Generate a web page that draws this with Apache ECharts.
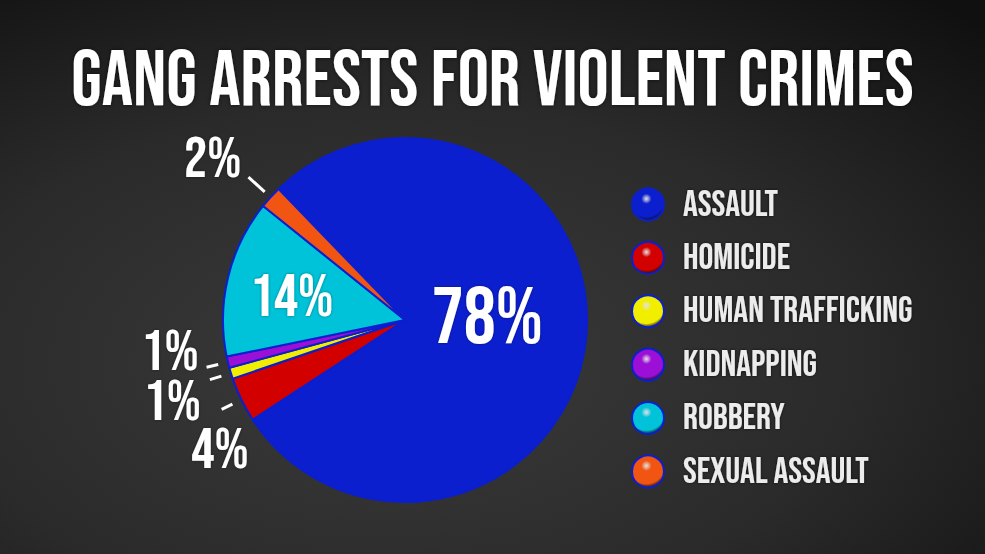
<!DOCTYPE html>
<html>
<head>
<meta charset="utf-8">
<script src="https://cdn.jsdelivr.net/npm/echarts@6/dist/echarts.min.js"></script>
<style>html,body{margin:0;padding:0;background:#1e1e1e;}#c{width:985px;height:554px;}</style>
</head>
<body>
<div id="c"></div>
<script>
const titleText = 'GANG ARRESTS FOR VIOLENT CRIMES';
const categories = ['ASSAULT', 'HOMICIDE', 'HUMAN TRAFFICKING', 'KIDNAPPING', 'ROBBERY', 'SEXUAL ASSAULT'];
const values = [78, 4, 1, 1, 14, 2];
const colors = ['#0b1fcf', '#d30000', '#f2ee00', '#9b0fd6', '#00c3d9', '#f25512'];
const insideLabels = ['ASSAULT', 'ROBBERY'];
// label nudges relative to the library's default label placement
const labelNudges = {
  'ASSAULT': [-11, -11],
  'HOMICIDE': [32, 41],
  'HUMAN TRAFFICKING': [-4, 23],
  'KIDNAPPING': [-3, -15],
  'ROBBERY': [-22, 0],
  'SEXUAL ASSAULT': [-2, -18]
};

const FONT = "'Bebas Neue', 'Oswald', sans-serif";

function sphere(c) {
  return {
    type: 'radial', x: 0.45, y: 0.32, r: 0.72,
    colorStops: [
      { offset: 0, color: 'rgba(255,255,255,0.85)' },
      { offset: 0.22, color: c },
      { offset: 0.78, color: c },
      { offset: 1, color: 'rgba(0,0,0,0.55)' }
    ]
  };
}

const pieData = categories.map((name, i) => {
  const inside = insideLabels.indexOf(name) >= 0;
  const big = name === 'SEXUAL ASSAULT';
  return {
    name: name,
    value: values[i],
    itemStyle: { color: colors[i] },
    label: inside ? {
      position: 'inside',
      fontSize: name === 'ASSAULT' ? 80 : 60
    } : {
      position: 'outside',
      fontSize: 58,
      lineHeight: 44
    },
    labelLine: inside ? { show: false } : {
      show: true,
      length: big ? 30 : 22,
      length2: 0,
      lineStyle: { color: '#ffffff', width: 3, type: big ? [0, 8, 22, 60] : [0, 10, 12, 60] }
    }
  };
});

const chart = echarts.init(document.getElementById('c'), null, { renderer: 'svg' });
chart.setOption({
  backgroundColor: {
    type: 'radial', x: 0.4, y: 0.65, r: 0.85,
    colorStops: [
      { offset: 0, color: '#3b3b3b' },
      { offset: 0.55, color: '#2a2a2a' },
      { offset: 1, color: '#101010' }
    ]
  },
  title: {
    text: titleText,
    left: 'center',
    top: 37,
    textStyle: {
      fontFamily: FONT,
      fontSize: 78,
      fontWeight: 'normal',
      color: '#ffffff',
      textShadowColor: 'rgba(0,0,0,0.6)',
      textShadowBlur: 4
    }
  },
  legend: {
    orient: 'vertical',
    left: 626,
    top: 181,
    itemWidth: 32,
    itemHeight: 32,
    itemGap: 16.4,
    icon: 'circle',
    selectedMode: false,
    data: categories.map((name, i) => ({ name: name, itemStyle: { color: sphere(colors[i]) } })),
    textStyle: {
      fontFamily: FONT,
      fontSize: 37,
      color: '#ececec',
      padding: [4, 0, 0, 14],
      textShadowColor: 'rgba(0,0,0,0.7)',
      textShadowBlur: 3
    }
  },
  series: [{
    type: 'pie',
    center: [405, 320],
    radius: 182,
    startAngle: 134,
    clockwise: true,
    avoidLabelOverlap: false,
    silent: true,
    itemStyle: { borderColor: '#0b1fcf', borderWidth: 2 },
    label: {
      formatter: '{c}%',
      fontFamily: FONT,
      color: '#ffffff',
      textShadowColor: 'rgba(0,0,0,0.4)',
      textShadowBlur: 3
    },
    labelLayout: function (params) {
      const n = labelNudges[categories[params.dataIndex]] || [0, 0];
      return { dx: n[0], dy: n[1], hideOverlap: false };
    },
    data: pieData
  }]
});
</script>
</body>
</html>
